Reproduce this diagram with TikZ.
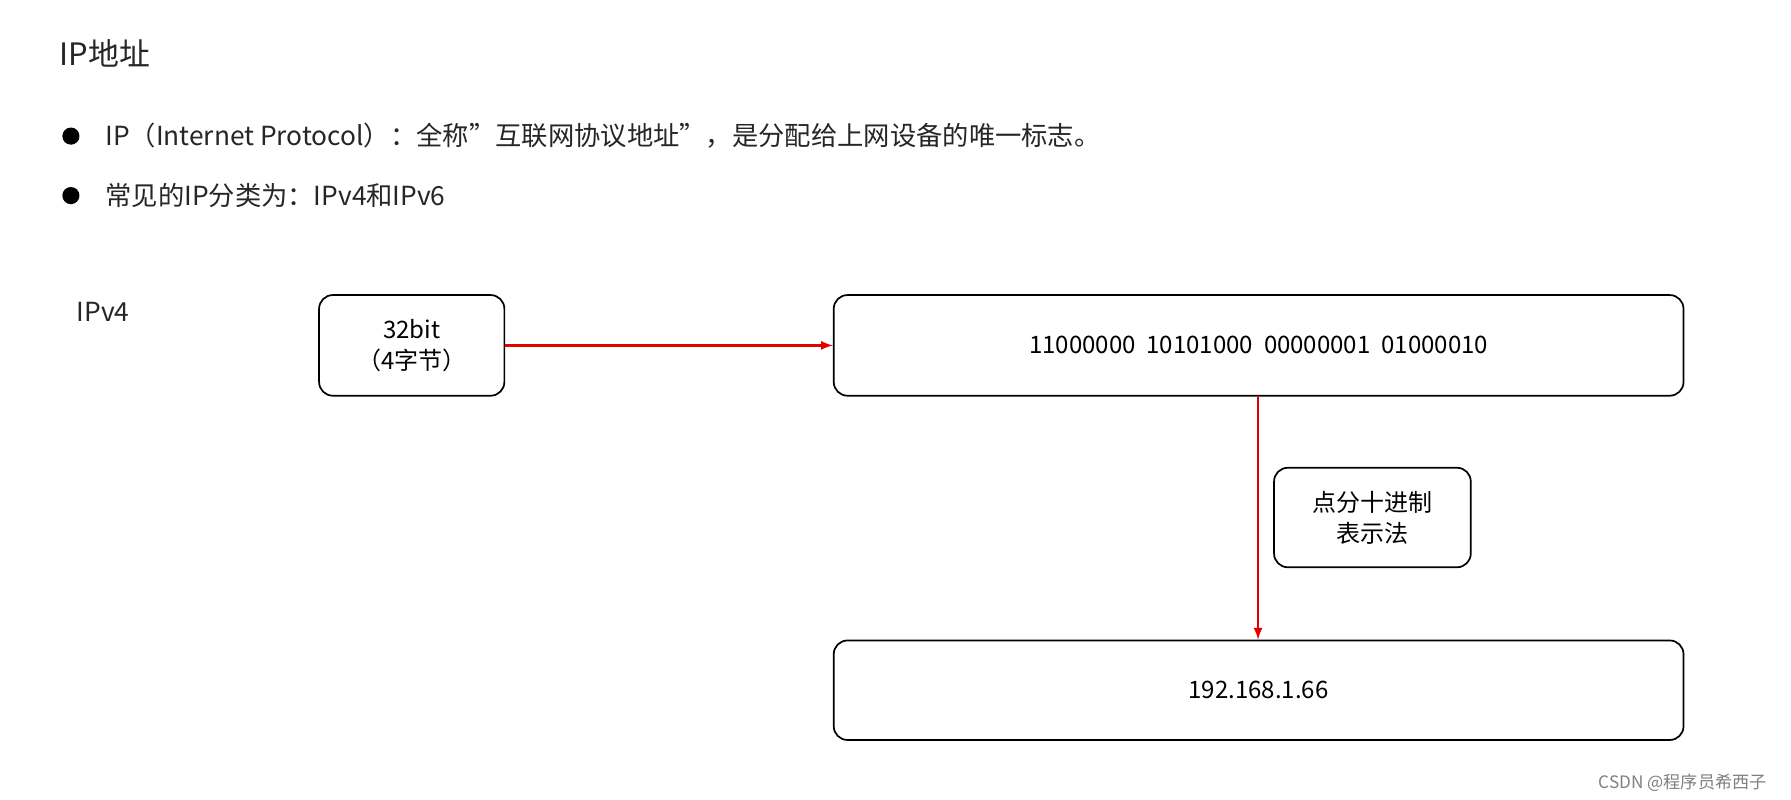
\documentclass[tikz,border=0pt]{standalone}
\usepackage{fontspec}
\setmainfont{Noto Sans CJK SC}
\begin{document}
\begin{tikzpicture}[x=1pt,y=-1pt,
  bx/.style={draw,line width=1.5pt,rounded corners=12pt,align=center,font=\fontsize{21}{27}\selectfont,inner sep=0pt},
  arr/.style={red!90!black,line width=2.5pt,-latex},
  txt/.style={anchor=west,inner sep=0pt,text=black!85,font=\fontsize{23}{28}\selectfont}]
\useasboundingbox[fill=white] (0,0) rectangle (1566,699);
\node[txt,font=\fontsize{27}{32}\selectfont] (title) at (52,47) {IP地址};
\fill (62,119) circle (7.5);
\fill (62,171) circle (7.5);
\node[txt] (b1) at (92,119) {IP（Internet Protocol）：全称”互联网协议地址”，是分配给上网设备的唯一标志。};
\node[txt] (b2) at (92,171) {常见的IP分类为：IPv4和IPv6};
\node[txt] (ipv4) at (67,273) {IPv4};
\node[bx,minimum width=162pt,minimum height=88pt] (a) at (360,302) {32bit\\（4字节）};
\node[bx,minimum width=743pt,minimum height=88pt] (b) at (1100.5,302) {11000000\ \ 10101000\ \ 00000001\ \ 01000010};
\node[bx,minimum width=743pt,minimum height=87pt] (c) at (1100.5,603.5) {192.168.1.66};
\node[bx,minimum width=172pt,minimum height=87pt] (d) at (1200,452.5) {点分十进制\\表示法};
\draw[arr] (a.east) -- (b.west);
\draw[arr] (b.south-|1100,0) -- (c.north-|1100,0);
\node[anchor=east,inner sep=0pt,text=gray,font=\fontsize{15}{18}\selectfont] (wm) at (1545,684) {CSDN @程序员希西子};
\end{tikzpicture}
\end{document}
